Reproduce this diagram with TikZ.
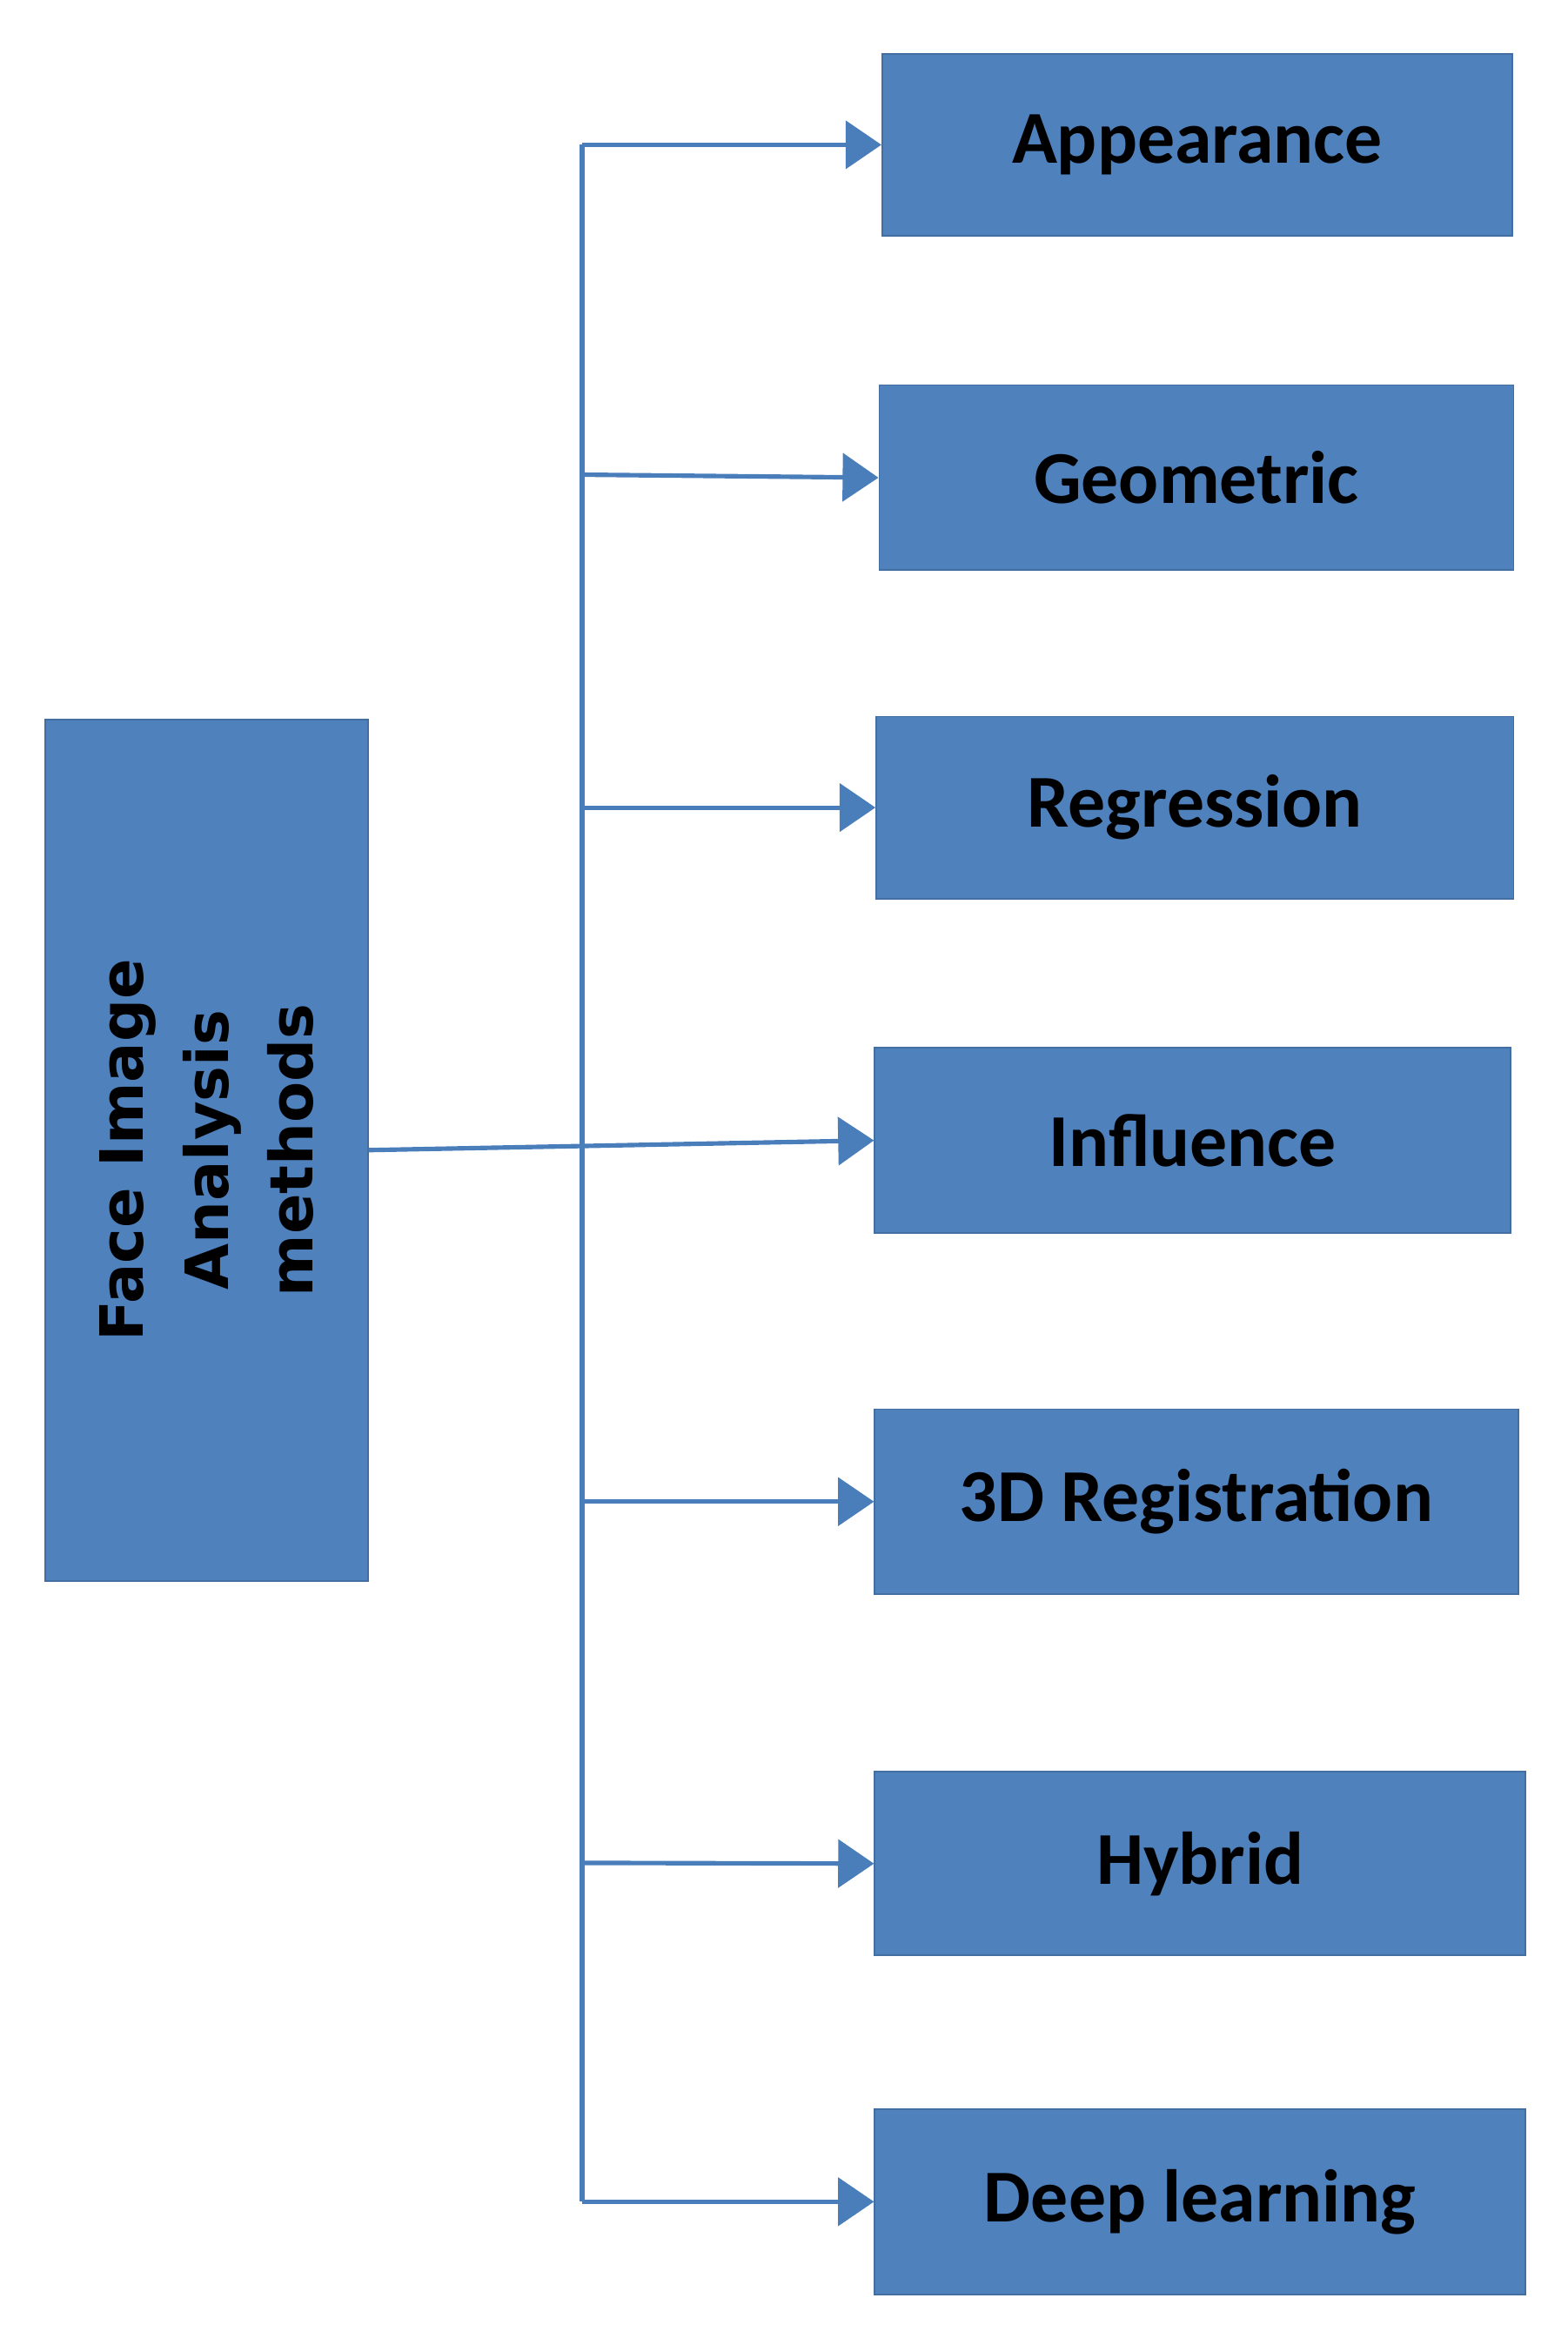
\documentclass[tikz,border=0pt]{standalone}
\usepackage{fontspec}
\setmainfont{Carlito}
\newfontfamily\vfont{DejaVu Sans}
\usetikzlibrary{arrows.meta}
\definecolor{boxblue}{HTML}{4F81BD}
\definecolor{lineblue}{HTML}{4A7EBB}
\tikzset{
  catbox/.style={fill=boxblue,draw=boxblue!85!black,line width=1pt,inner sep=0pt,font=\fontsize{50}{60}\selectfont\bfseries},
  conn/.style={draw=lineblue,line width=3pt,-{Triangle[length=24pt,width=32pt]}}
}
\begin{document}
\begin{tikzpicture}[x=1pt,y=-1pt]
\useasboundingbox (0,0) rectangle (1050,1571);
\node[catbox,minimum width=216pt,minimum height=577pt] (root) at (138.5,770.5) {};
\node[rotate=90,align=center,font=\vfont\fontsize{40}{57}\selectfont\bfseries] (rootlbl) at (root.center) {Face Image\\Analysis\\methods};
\node[catbox,minimum width=422pt,minimum height=122pt] (a) at (802,97) {Appearance};
\node[catbox,minimum width=425pt,minimum height=124pt] (b) at (801.5,320) {Geometric};
\node[catbox,minimum width=427pt,minimum height=122pt] (c) at (800.5,541) {Regression};
\node[catbox,minimum width=426pt,minimum height=124pt] (d) at (799,764) {Influence};
\node[catbox,minimum width=431pt,minimum height=124pt] (e) at (801.5,1006) {3D Registration};
\node[catbox,minimum width=436pt,minimum height=123pt] (f) at (804,1248.5) {Hybrid};
\node[catbox,minimum width=436pt,minimum height=124pt] (g) at (804,1475) {Deep learning};
\coordinate (top) at (390,97);
\coordinate (bot) at (390,1475);
\draw[draw=lineblue,line width=3pt] (top) -- (bot);
\draw[conn] (top) -- (a.west);
\draw[conn] (390,318) -- (b.west);
\draw[conn] (390,541) -- (c.west);
\draw[conn] (root.east) -- (d.west);
\draw[conn] (390,1006) -- (e.west);
\draw[conn] (390,1248) -- (f.west);
\draw[conn] (bot) -- (g.west);
\end{tikzpicture}
\end{document}
